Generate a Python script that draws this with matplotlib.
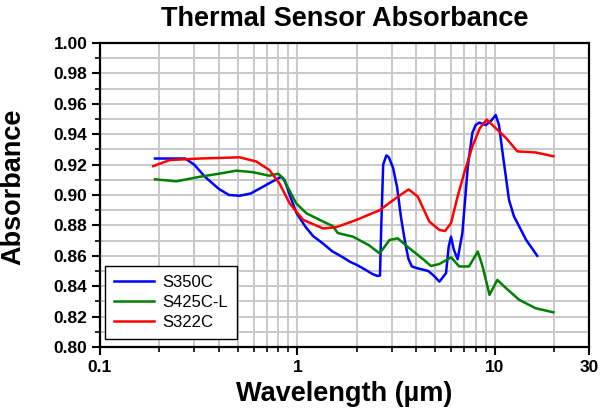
import matplotlib.pyplot as plt
from matplotlib.ticker import FixedLocator, NullFormatter, MultipleLocator, LogLocator

plt.rcParams['font.family'] = ['Liberation Sans', 'DejaVu Sans']

# S350C
wl_blue = [0.19, 0.22, 0.27, 0.30, 0.34, 0.40, 0.45, 0.51, 0.58, 0.66, 0.75, 0.83, 0.86,
           0.92, 0.99, 1.1, 1.2, 1.35, 1.5, 1.7, 1.85, 2.0, 2.2, 2.4, 2.55, 2.62, 2.66,
           2.72, 2.82, 2.9, 3.05, 3.2, 3.35, 3.5, 3.65, 3.8, 4.0, 4.3, 4.6, 4.9, 5.24,
           5.66, 5.84, 6.0, 6.2, 6.48, 6.85, 7.3, 7.7, 8.0, 8.34, 9.0, 9.6, 10.1, 10.5,
           10.9, 11.8, 12.5, 14.4, 16.4]
ab_blue = [0.924, 0.924, 0.924, 0.920, 0.912, 0.904, 0.900, 0.8995, 0.901, 0.905, 0.909,
           0.912, 0.910, 0.899, 0.888, 0.879, 0.873, 0.868, 0.863, 0.859, 0.856, 0.854,
           0.851, 0.848, 0.8467, 0.847, 0.880, 0.920, 0.926, 0.925, 0.918, 0.905, 0.885,
           0.870, 0.858, 0.853, 0.852, 0.851, 0.850, 0.847, 0.843, 0.8486, 0.866, 0.8726,
           0.864, 0.8577, 0.875, 0.919, 0.941, 0.946, 0.9476, 0.946, 0.949, 0.9526,
           0.946, 0.9296, 0.8968, 0.886, 0.8705, 0.860]

# S425C-L
wl_green = [0.19, 0.244, 0.32, 0.40, 0.49, 0.596, 0.72, 0.80, 0.845, 0.92, 0.986, 1.11,
            1.35, 1.51, 1.60, 1.91, 2.3, 2.61, 2.93, 3.22, 3.69, 4.31, 4.75, 5.24, 6.0,
            6.6, 7.4, 8.2, 8.67, 9.4, 10.3, 11.4, 13.3, 16.1, 19.8]
ab_green = [0.9103, 0.909, 0.912, 0.914, 0.916, 0.915, 0.9127, 0.914, 0.911, 0.902,
            0.8945, 0.888, 0.8825, 0.8796, 0.875, 0.8726, 0.867, 0.8616, 0.8704, 0.8715,
            0.865, 0.858, 0.8533, 0.8546, 0.859, 0.853, 0.853, 0.8628, 0.853, 0.8343,
            0.8441, 0.8387, 0.831, 0.8255, 0.8228]

# S322C
wl_red = [0.186, 0.226, 0.32, 0.51, 0.62, 0.72, 0.81, 0.914, 1.07, 1.35, 1.57, 1.99,
          2.61, 3.16, 3.66, 4.07, 4.66, 5.24, 5.6, 6.0, 6.48, 7.0, 7.7, 8.4, 9.1, 10.1,
          11.4, 13.0, 16.1, 19.8]
ab_red = [0.919, 0.923, 0.924, 0.9248, 0.922, 0.9165, 0.9077, 0.8945, 0.8836, 0.878,
          0.8788, 0.8836, 0.890, 0.898, 0.9037, 0.899, 0.8825, 0.877, 0.8763, 0.8815,
          0.899, 0.9145, 0.932, 0.944, 0.9496, 0.944, 0.9375, 0.9287, 0.928, 0.9255]

x_ticks = [0.1, 1, 10, 30]
x_labels = ['0.1', '1', '10', '30']

fig = plt.figure(figsize=(6, 4.09), dpi=100)
ax = fig.add_axes([100 / 600, 62 / 409, 489 / 600, 304 / 409])

ax.plot(wl_blue, ab_blue, color='#0000ff', lw=1.8, label='S350C')
ax.plot(wl_green, ab_green, color='#008000', lw=1.8, label='S425C-L')
ax.plot(wl_red, ab_red, color='#ff0000', lw=1.8, label='S322C')

ax.set_xscale('log')
ax.set_xlim(0.1, 30)
ax.set_ylim(0.80, 1.00)
ax.xaxis.set_major_locator(FixedLocator(x_ticks))
ax.set_xticklabels(x_labels)
ax.xaxis.set_minor_locator(LogLocator(base=10, subs=range(2, 10), numticks=20))
ax.xaxis.set_minor_formatter(NullFormatter())
ax.yaxis.set_major_locator(MultipleLocator(0.02))
ax.yaxis.set_minor_locator(MultipleLocator(0.01))
ax.yaxis.set_major_formatter(plt.FormatStrFormatter('%.2f'))

ax.grid(True, which='both', color='#c8c8c8', lw=1.4)
ax.set_axisbelow(True)
for s in ax.spines.values():
    s.set_linewidth(1.6)
ax.tick_params(which='major', direction='out', length=6, width=1.5, labelsize=12.5, pad=3)
ax.tick_params(which='minor', direction='out', length=3.5, width=1.2)
for lab in ax.get_xticklabels() + ax.get_yticklabels():
    lab.set_fontweight('bold')

ax.set_title('Thermal Sensor Absorbance', fontsize=19.5, fontweight='bold', pad=12)
ax.set_xlabel('Wavelength (µm)', fontsize=19.5, fontweight='bold')
ax.xaxis.set_label_coords(0.5, -0.112)
ax.xaxis.label.set_va('top')
ax.set_ylabel('Absorbance', fontsize=19.5, fontweight='bold')
ax.yaxis.set_label_coords(-0.151, 0.528)

leg = ax.legend(loc='lower left', bbox_to_anchor=(0.01, 0.025), borderaxespad=0,
                fontsize=12, fancybox=False, edgecolor='black', framealpha=1,
                handlelength=2.4, handletextpad=0.5, borderpad=0.55, labelspacing=0.3)
leg.get_frame().set_linewidth(1.0)

fig.savefig('out.png', dpi=100)
